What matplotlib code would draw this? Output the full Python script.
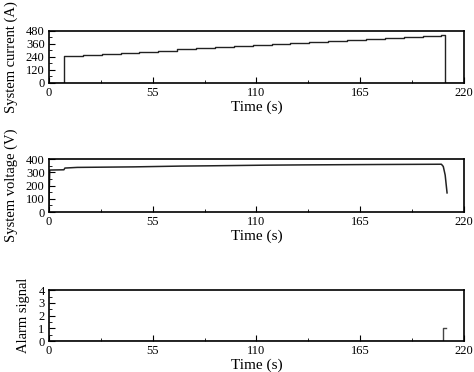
import matplotlib
matplotlib.use('Agg')
import matplotlib.pyplot as plt
from matplotlib.ticker import MultipleLocator

plt.rcParams['font.family'] = ['Liberation Serif', 'DejaVu Serif']

# current (A): staircase ramp, then cut-off
t_cur = [0, 8, 8, 18, 28, 38, 48, 58, 68, 78, 88, 98, 108, 118, 128, 138, 148, 158, 168, 178, 188, 198, 208, 210, 210, 220]
i_cur = [0, 0, 245, 255, 265, 275, 288, 298, 310, 320, 330, 340, 350, 360, 368, 376, 385, 394, 402, 410, 420, 430, 445, 445, 0, 0]

# voltage (V)
t_volt = [0, 0.5, 8, 8.5, 15, 45, 70, 85, 115, 135, 175, 208, 209, 210, 211]
v_volt = [50, 318, 320, 333, 338, 342, 348, 350, 355, 357, 360, 362, 345, 280, 145]

# alarm signal
t_alarm = [0, 208.7, 208.7, 210.7]
a_alarm = [0, 0, 1, 1]

fig = plt.figure(figsize=(4.74, 3.72), dpi=100)
left, width = 0.103, 0.876
ax1 = fig.add_axes([left, 0.777, width, 0.140])
ax2 = fig.add_axes([left, 0.430, width, 0.142])
ax3 = fig.add_axes([left, 0.083, width, 0.137])

ax1.plot(t_cur, i_cur, color='#222222', lw=1.0, drawstyle='steps-post')
ax2.plot(t_volt, v_volt, color='#222222', lw=1.1)
ax3.plot(t_alarm, a_alarm, color='#444444', lw=1.0)

settings = [
    (ax1, 'System current (A)', 480, 120),
    (ax2, 'System voltage (V)', 400, 100),
    (ax3, 'Alarm signal', 4, 1),
]
for ax, lab, ymax, ystep in settings:
    ax.set_xlim(0, 220)
    ax.set_ylim(0, ymax)
    ax.xaxis.set_major_locator(MultipleLocator(55))
    ax.xaxis.set_minor_locator(MultipleLocator(27.5))
    ax.yaxis.set_major_locator(MultipleLocator(ystep))
    ax.yaxis.set_minor_locator(MultipleLocator(ystep / 2))
    ax.tick_params(which='both', direction='in', labelsize=9, pad=3)
    ax.tick_params(which='major', length=4)
    ax.tick_params(which='minor', length=2)
    for s in ax.spines.values():
        s.set_linewidth(1.2)
    ax.set_xlabel('Time (s)', fontsize=11, labelpad=1)
    ax.set_ylabel(lab, fontsize=10.5, labelpad=6)

fig.savefig('out.png', dpi=100)
